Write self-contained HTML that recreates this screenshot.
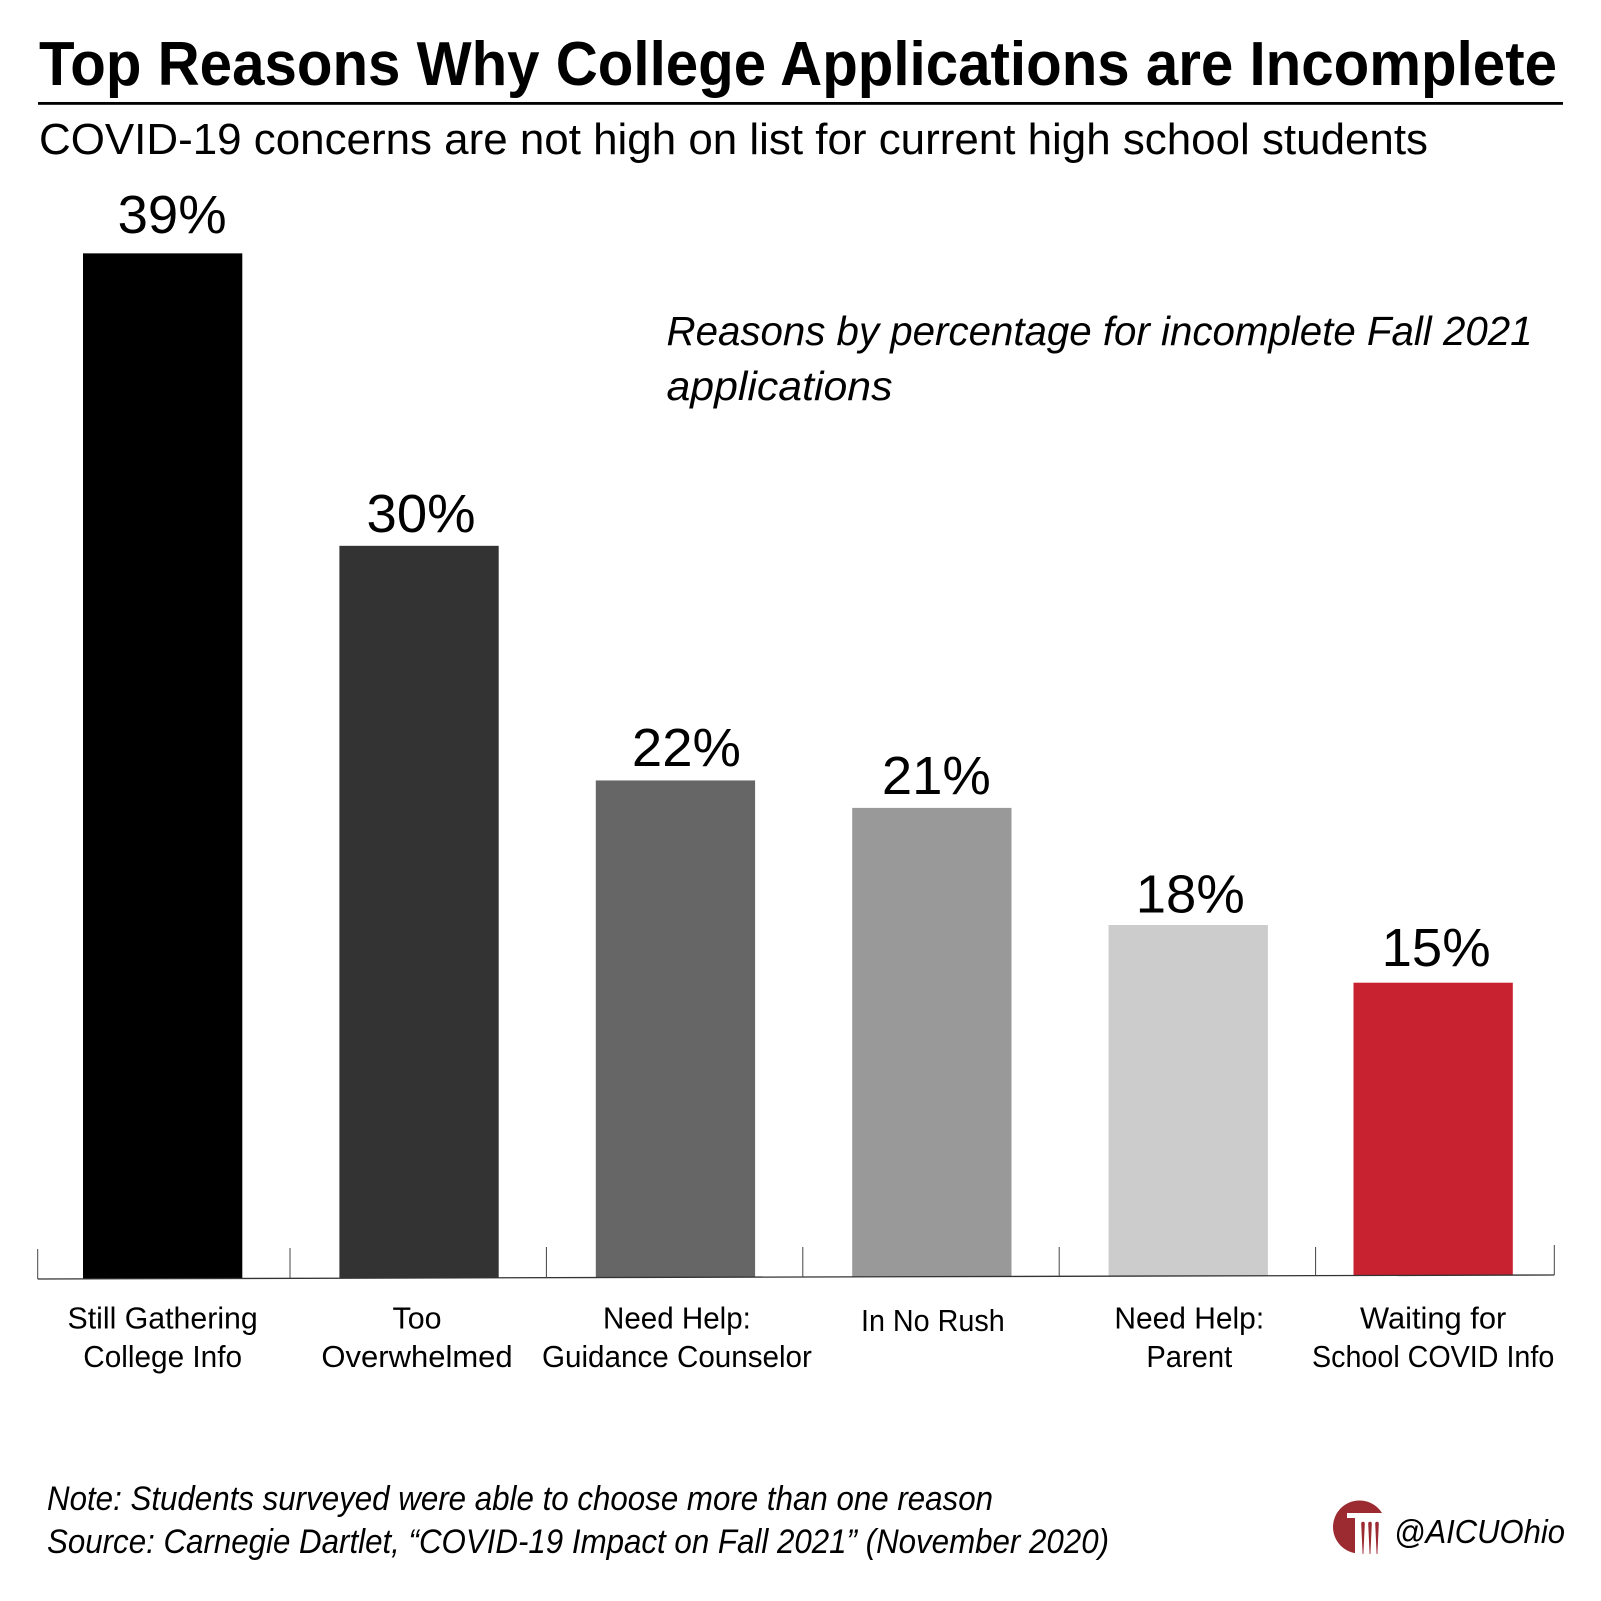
<!DOCTYPE html>
<html lang="en">
<head>
<meta charset="utf-8">
<title>Top Reasons Why College Applications are Incomplete</title>
<style>
html,body{margin:0;padding:0;background:#fff;}
svg{display:block;}
text{font-family:"Liberation Sans",sans-serif;fill:#000;}
</style>
</head>
<body>
<svg id="chart" xmlns="http://www.w3.org/2000/svg" width="1601" height="1601" viewBox="0 0 1601 1601">
  <rect x="0" y="0" width="1601" height="1601" fill="#fff"/>
  <text x="39" y="85" font-size="62" font-weight="700" textLength="1518" lengthAdjust="spacingAndGlyphs">Top Reasons Why College Applications are Incomplete</text>
  <rect x="38" y="102" width="1525" height="2.8" fill="#000"/>
  <text x="39" y="154" font-size="44" textLength="1389" lengthAdjust="spacingAndGlyphs">COVID-19 concerns are not high on list for current high school students</text>
  <text x="666.5" y="345" font-size="41" font-style="italic" textLength="866" lengthAdjust="spacingAndGlyphs">Reasons by percentage for incomplete Fall 2021</text>
  <text x="666.5" y="400" font-size="41" font-style="italic" textLength="226" lengthAdjust="spacingAndGlyphs">applications</text>
  <g id="marks"></g>
  <text x="47" y="1510" font-size="34" font-style="italic" textLength="946" lengthAdjust="spacingAndGlyphs">Note: Students surveyed were able to choose more than one reason</text>
  <text x="47" y="1553" font-size="34" font-style="italic" textLength="1062" lengthAdjust="spacingAndGlyphs">Source: Carnegie Dartlet, “COVID-19 Impact on Fall 2021” (November 2020)</text>
  <g>
    <circle cx="1359.5" cy="1527" r="26.5" fill="#9b2a31"/>
    <rect x="1347" y="1513" width="40" height="5" fill="#fff"/>
    <rect x="1355" y="1518" width="32" height="37" fill="#fff"/>
    <path d="M1361.2 1523.5a1.8 1.8 0 0 1 3.6 0L1363.4 1554h-.8Z" fill="#9b2a31"/>
    <path d="M1368.2 1523.5a1.8 1.8 0 0 1 3.6 0L1370.4 1554h-.8Z" fill="#9b2a31"/>
    <path d="M1375.2 1523.5a1.8 1.8 0 0 1 3.6 0L1377.4 1554h-.8Z" fill="#9b2a31"/>
  </g>
  <text x="1394" y="1543" font-size="33" font-style="italic" textLength="171" lengthAdjust="spacingAndGlyphs">@AICUOhio</text>
</svg>
<script>
// Category labels ("\n" marks a line break).
const categories = ["Still Gathering\nCollege Info", "Too\nOverwhelmed", "Need Help:\nGuidance Counselor", "In No Rush", "Need Help:\nParent", "Waiting for\nSchool COVID Info"];
// Values printed above the bars.
const printedValues = ["39%", "30%", "22%", "21%", "18%", "15%"];
// Bar lengths, in units where the tallest bar equals 39.
// The reference does not draw its bars in proportion to the printed percentages.
const plottedValues = [39, 27.85, 18.9, 17.83, 13.35, 11.13];
const barColors = ["#000000", "#333333", "#666666", "#999999", "#cccccc", "#c82130"];

// Layout, kept apart from the data.
const SVG_NS = "http://www.w3.org/2000/svg";
const PX_PER_UNIT = 26.29;
const BAR_WIDTH = 159.3;
const FIRST_BAR_LEFT = 83;
const BAND_STEP = 256.4;
const FIRST_TICK = 37.7;
const SECOND_TICK = 290;
const AXIS_START_Y = 1279;
const AXIS_END_Y = 1275;
const AXIS_END_X = 1554.3;
const labelShiftX = [9.5, 2, 11, 4.5, 2, 3];
const labelGap = [20.5, 14, 14.5, 14, 12.5, 16.5];
const tickTops = [1249, 1248, 1247, 1247, 1247, 1247, 1245];
const categoryShiftX = [0, -2, 1.5, 1, 1, 0];
const categoryCondense = [[0.977, 0.96], [0.98, 1.0], [0.953, 0.955], [0.927], [0.966, 0.94], [0.995, 0.925]];

const marks = document.getElementById("marks");

function barLeft(i) {
  // The last bar sits closer to its neighbour, as in the reference.
  return FIRST_BAR_LEFT + BAND_STEP * i - (i === categories.length - 1 ? 11.5 : 0);
}
function barCenter(i) {
  return barLeft(i) + BAR_WIDTH / 2;
}
function axisY(x) {
  return AXIS_START_Y + (AXIS_END_Y - AXIS_START_Y) * (x - FIRST_TICK) / (AXIS_END_X - FIRST_TICK);
}
function barLength(value) {
  return value * PX_PER_UNIT;
}
function tickX(i) {
  if (i === 0) return FIRST_TICK;
  if (i === tickTops.length - 1) return AXIS_END_X;
  return SECOND_TICK + BAND_STEP * (i - 1);
}
function make(tag) {
  return document.createElementNS(SVG_NS, tag);
}

plottedValues.forEach(function (value, i) {
  const bar = make("rect");
  
  
  const base = axisY(barCenter(i));
  const top = base - barLength(value);
  bar.setAttribute("x", barLeft(i));
  bar.setAttribute("y", top);
  bar.setAttribute("width", BAR_WIDTH);
  bar.setAttribute("height", barLength(value));
  bar.setAttribute("fill", barColors[i]);
  marks.appendChild(bar);

  const label = make("text");
  
  
  label.setAttribute("x", barCenter(i) + labelShiftX[i]);
  label.setAttribute("y", top - labelGap[i]);
  label.setAttribute("font-size", "54");
  label.setAttribute("text-anchor", "middle");
  label.setAttribute("textLength", "109");
  label.setAttribute("lengthAdjust", "spacingAndGlyphs");
  label.textContent = printedValues[i];
  marks.appendChild(label);
});

const axisLine = make("line");


axisLine.setAttribute("x1", FIRST_TICK);
axisLine.setAttribute("y1", AXIS_START_Y);
axisLine.setAttribute("x2", AXIS_END_X);
axisLine.setAttribute("y2", AXIS_END_Y);
axisLine.setAttribute("stroke", "#333");
axisLine.setAttribute("stroke-width", "1.3");
marks.appendChild(axisLine);

tickTops.forEach(function (tickTop, i) {
  const x = tickX(i);
  const tick = make("line");
  
  
  tick.setAttribute("x1", x);
  tick.setAttribute("y1", tickTop);
  tick.setAttribute("x2", x);
  tick.setAttribute("y2", axisY(x));
  tick.setAttribute("stroke", "#444");
  tick.setAttribute("stroke-width", "1");
  marks.appendChild(tick);
});

categories.forEach(function (category, i) {
  const lines = category.split("\n");
  lines.forEach(function (line, n) {
    const t = make("text");
    
    
    t.setAttribute("x", barCenter(i) + categoryShiftX[i]);
    t.setAttribute("y", lines.length === 1 ? 1331 : 1328.5 + 38.5 * n);
    t.setAttribute("font-size", "31");
    t.setAttribute("text-anchor", "middle");
    t.textContent = line;
    marks.appendChild(t);
    t.setAttribute("textLength", t.getComputedTextLength() * categoryCondense[i][n]);
    t.setAttribute("lengthAdjust", "spacingAndGlyphs");
  });
});
</script>
</body>
</html>
